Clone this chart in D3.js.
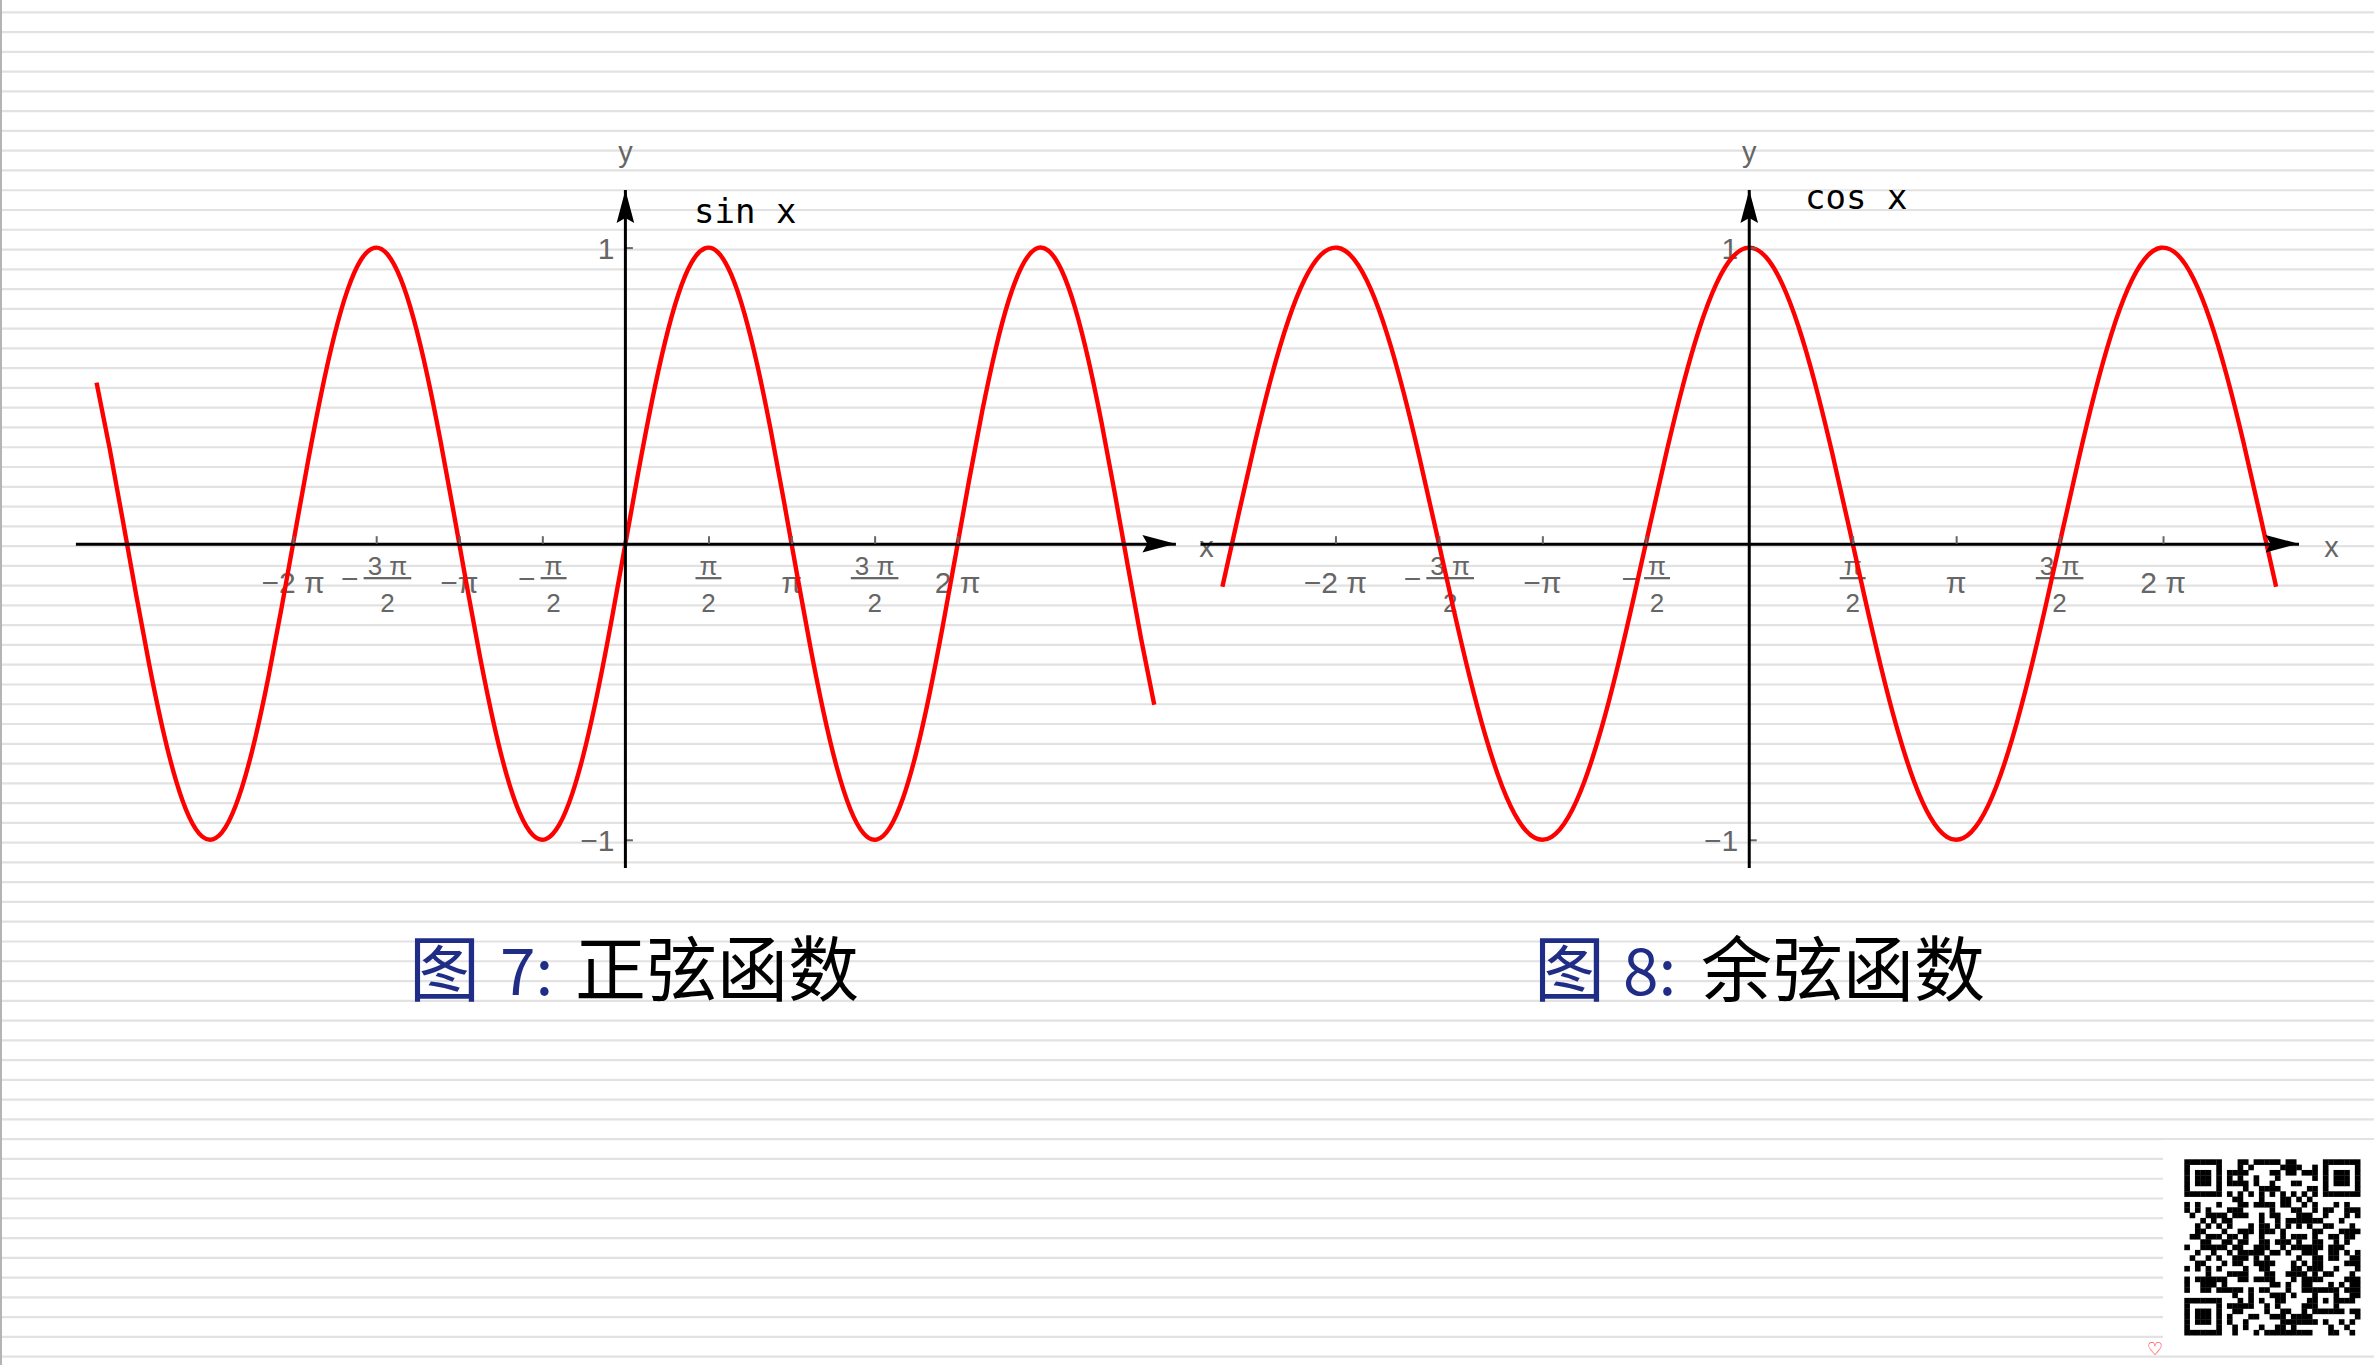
<!DOCTYPE html>
<html><head><meta charset="utf-8">
<script src="https://cdn.jsdelivr.net/npm/d3@7"></script>
<style>html,body{margin:0;padding:0;background:#fff;overflow:hidden}</style>
</head><body>
<svg id="c" width="2374" height="1365"></svg>
<script>
const sinSamples = [
[-10,0.5440],[-9.75,0.3195],[-9.5,0.0752],[-9.25,-0.1739],[-9,-0.4121],[-8.75,-0.6247],[-8.5,-0.7985],[-8.25,-0.9226],
[-8,-0.9894],[-7.75,-0.9946],[-7.5,-0.9380],[-7.25,-0.8231],[-7,-0.6570],[-6.75,-0.4500],[-6.5,-0.2151],[-6.25,0.0332],
[-6,0.2794],[-5.75,0.5083],[-5.5,0.7055],[-5.25,0.8589],[-5,0.9589],[-4.75,0.9993],[-4.5,0.9775],[-4.25,0.8950],
[-4,0.7568],[-3.75,0.5716],[-3.5,0.3508],[-3.25,0.1082],[-3,-0.1411],[-2.75,-0.3817],[-2.5,-0.5985],[-2.25,-0.7781],
[-2,-0.9093],[-1.75,-0.9840],[-1.5,-0.9975],[-1.25,-0.9490],[-1,-0.8415],[-0.75,-0.6816],[-0.5,-0.4794],[-0.25,-0.2474],
[0,0],
[0.25,0.2474],[0.5,0.4794],[0.75,0.6816],[1,0.8415],[1.25,0.9490],[1.5,0.9975],[1.75,0.9840],[2,0.9093],
[2.25,0.7781],[2.5,0.5985],[2.75,0.3817],[3,0.1411],[3.25,-0.1082],[3.5,-0.3508],[3.75,-0.5716],[4,-0.7568],
[4.25,-0.8950],[4.5,-0.9775],[4.75,-0.9993],[5,-0.9589],[5.25,-0.8589],[5.5,-0.7055],[5.75,-0.5083],[6,-0.2794],
[6.25,-0.0332],[6.5,0.2151],[6.75,0.4500],[7,0.6570],[7.25,0.8231],[7.5,0.9380],[7.75,0.9946],[8,0.9894],
[8.25,0.9226],[8.5,0.7985],[8.75,0.6247],[9,0.4121],[9.25,0.1739],[9.5,-0.0752],[9.75,-0.3195],[10,-0.5440]
];
const cosSamples = [
[-8,-0.1455],[-7.75,0.1038],[-7.5,0.3466],[-7.25,0.5679],[-7,0.7539],[-6.75,0.8930],[-6.5,0.9766],[-6.25,0.9994],
[-6,0.9602],[-5.75,0.8612],[-5.5,0.7087],[-5.25,0.5121],[-5,0.2837],[-4.75,0.0376],[-4.5,-0.2108],[-4.25,-0.4461],
[-4,-0.6536],[-3.75,-0.8206],[-3.5,-0.9365],[-3.25,-0.9941],[-3,-0.9900],[-2.75,-0.9243],[-2.5,-0.8011],[-2.25,-0.6282],
[-2,-0.4161],[-1.75,-0.1782],[-1.5,0.0707],[-1.25,0.3153],[-1,0.5403],[-0.75,0.7317],[-0.5,0.8776],[-0.25,0.9689],
[0,1],
[0.25,0.9689],[0.5,0.8776],[0.75,0.7317],[1,0.5403],[1.25,0.3153],[1.5,0.0707],[1.75,-0.1782],[2,-0.4161],
[2.25,-0.6282],[2.5,-0.8011],[2.75,-0.9243],[3,-0.9900],[3.25,-0.9941],[3.5,-0.9365],[3.75,-0.8206],[4,-0.6536],
[4.25,-0.4461],[4.5,-0.2108],[4.75,0.0376],[5,0.2837],[5.25,0.5121],[5.5,0.7087],[5.75,0.8612],[6,0.9602],
[6.25,0.9994],[6.5,0.9766],[6.75,0.8930],[7,0.7539],[7.25,0.5679],[7.5,0.3466],[7.75,0.1038],[8,-0.1455]
];
const piTicks = [-2, -1.5, -1, -0.5, 0.5, 1, 1.5, 2];           // tick positions in multiples of π
const piTickLabels = ["−2 π", "−3 π/2", "−π", "−π/2", "π/2", "π", "3 π/2", "2 π"];
const yTicks = [-1, 1];
const yTickLabels = ["−1", "1"];
const plotNames = ["sin x", "cos x"];
const figPrefix = "图";
const figNumbers = ["7:", "8:"];
const figTitles = ["正弦函数", "余弦函数"];

// ---- drawing ----
const W = 2374, H = 1365;
const svg = d3.select("#c");
const PI = Math.PI;
const GREY = "#666666", BLUE = "#1f2d87";
const LABEL_FONT = "'Liberation Sans', Arial, sans-serif";

// lined paper background
const bg = svg.append("g");
bg.selectAll("line.rule").data(d3.range(69)).join("line")
  .attr("x1", 0).attr("x2", W)
  .attr("y1", k => 12.3 + 19.77 * k).attr("y2", k => 12.3 + 19.77 * k)
  .attr("stroke", "#e2e2e2").attr("stroke-width", 2.2);
bg.append("line").attr("x1", 1).attr("x2", 1).attr("y1", 0).attr("y2", H)
  .attr("stroke", "#b4b4b4").attr("stroke-width", 2);

const yScale = d3.scaleLinear().domain([-1, 1]).range([839.8, 247.6]);

const charts = [
  {data: sinSamples, name: plotNames[0], xDom: [-10.4, 10.4], xRange: [75.4, 1175.4],
   nameX: 694, nameY: 222.7, xLabelX: 1206.4, cap: [409, 500, 575]},
  {data: cosSamples, name: plotNames[1], xDom: [-8.34, 8.34], xRange: [1200, 2298.5],
   nameX: 1805, nameY: 209.3, xLabelX: 2331.5, cap: [1534, 1623, 1701]}
];

function arrowPath(len, half, notch) {
  return `M0,0L${-len},${-half}L${-len + notch},0L${-len},${half}Z`;
}

charts.forEach((ch, i) => {
  const x = d3.scaleLinear().domain(ch.xDom).range(ch.xRange);
  const x0 = x(0), y0 = yScale(0);
  const gLab = svg.append("g");
  const gCurve = svg.append("g");
  const gAxis = svg.append("g");

  // x tick labels
  piTicks.forEach((t, j) => {
    const lab = piTickLabels[j];
    const g = gLab.append("g").attr("transform", `translate(${x(t * PI)},0)`)
      .attr("fill", GREY).style("font-family", LABEL_FONT);
    if (lab.includes("/")) {
      let sign = "", body = lab;
      if (body.startsWith("−")) { sign = "−"; body = body.slice(1); }
      const [num, den] = body.split("/");
      const tn = g.append("text").attr("font-size", 26).attr("text-anchor", "middle").text(num);
      const td = g.append("text").attr("font-size", 26).attr("text-anchor", "middle").text(den);
      const barW = Math.max(tn.node().getComputedTextLength(), td.node().getComputedTextLength()) + 8;
      let mw = 0, gap = 0, tm = null;
      if (sign) {
        tm = g.append("text").attr("font-size", 30).attr("text-anchor", "start").text(sign);
        mw = tm.node().getComputedTextLength(); gap = 5;
      }
      const total = mw + gap + barW;
      const start = -total / 2;
      if (tm) tm.attr("x", start).attr("y", 588.5);
      const bx = start + mw + gap;
      g.append("rect").attr("x", bx).attr("y", 577).attr("width", barW).attr("height", 2.3).attr("fill", GREY);
      tn.attr("x", bx + barW / 2).attr("y", 575);
      td.attr("x", bx + barW / 2).attr("y", 612);
    } else {
      g.append("text").attr("font-size", 30).attr("text-anchor", "middle").attr("y", 592.5).text(lab);
    }
  });
  // y tick labels
  yTicks.forEach((v, j) => {
    gLab.append("text").attr("x", x0 - 11).attr("y", yScale(v) + 11)
      .attr("text-anchor", "end").attr("font-size", 30).attr("fill", GREY)
      .style("font-family", LABEL_FONT).text(yTickLabels[j]);
  });
  // axis names
  gLab.append("text").attr("x", ch.xLabelX).attr("y", 557).attr("text-anchor", "middle")
    .attr("font-size", 29).attr("fill", GREY).style("font-family", LABEL_FONT).text("x");
  gLab.append("text").attr("x", x0).attr("y", 162).attr("text-anchor", "middle")
    .attr("font-size", 29).attr("fill", GREY).style("font-family", LABEL_FONT).text("y");

  // curve
  const line = d3.line().x(d => x(d[0])).y(d => yScale(d[1])).curve(d3.curveNatural);
  gCurve.append("path").datum(ch.data).attr("d", line)
    .attr("fill", "none").attr("stroke", "#ff0000").attr("stroke-width", 4.4)
    .attr("stroke-linejoin", "round");

  // x axis (d3 axis: domain line + upward ticks)
  const xAxis = d3.axisBottom(x).tickValues(piTicks.map(t => t * PI))
    .tickSizeInner(-7.5).tickSizeOuter(0).tickFormat("");
  const ga = gAxis.append("g").attr("transform", `translate(0,${y0})`).call(xAxis);
  ga.selectAll("text").remove();
  ga.select(".domain").attr("stroke", "#000").attr("stroke-width", 3);
  ga.selectAll(".tick line").attr("stroke", GREY).attr("stroke-width", 2);
  gAxis.append("path").attr("d", arrowPath(33, 8.8, 5))
    .attr("transform", `translate(${ch.xRange[1]},${y0})`).attr("fill", "#000");

  // y axis
  const yAxis = d3.axisRight(yScale).tickValues(yTicks).tickSizeInner(7.5).tickSizeOuter(0).tickFormat("");
  const gy = gAxis.append("g").attr("transform", `translate(${x0},0)`).call(yAxis);
  gy.selectAll("text").remove();
  gy.select(".domain").remove();
  gy.selectAll(".tick line").attr("stroke", GREY).attr("stroke-width", 2);
  gAxis.append("line").attr("x1", x0).attr("x2", x0)
    .attr("y1", yScale(-1.095)).attr("y2", yScale(1.1945))
    .attr("stroke", "#000").attr("stroke-width", 3);
  gAxis.append("path").attr("d", arrowPath(33, 8.8, 5))
    .attr("transform", `translate(${x0},${yScale(1.1945)}) rotate(-90)`).attr("fill", "#000");

  // function name
  svg.append("text").attr("x", ch.nameX).attr("y", ch.nameY)
    .attr("font-size", 34).attr("fill", "#000")
    .style("font-family", "'DejaVu Sans Mono', monospace")
    .style("white-space", "pre").attr("xml:space", "preserve").text(ch.name);

  // caption
  const cg = svg.append("g").style("font-family", "'Noto Sans CJK SC', sans-serif");
  cg.append("text").attr("x", ch.cap[0]).attr("y", 995).attr("font-size", 71).attr("fill", BLUE).text(figPrefix);
  cg.append("text").attr("x", ch.cap[1]).attr("y", 995).attr("font-size", 64).attr("fill", BLUE).text(figNumbers[i]);
  cg.append("text").attr("x", ch.cap[2]).attr("y", 995).attr("font-size", 71).attr("fill", "#000").text(figTitles[i]);
});

// QR code panel (decorative, deterministic pattern)
const qr = svg.append("g");
qr.append("rect").attr("x", 2163).attr("y", 1140).attr("width", W - 2163).attr("height", 211).attr("fill", "#fff");
const N = 33, ms = 5.33, qx = 2184.3, qy = 1159.3;
function finder(r, c, r0, c0) {
  const a = r - r0, b = c - c0;
  if (a < -1 || a > 7 || b < -1 || b > 7) return null;
  if (a < 0 || a > 6 || b < 0 || b > 6) return 0;
  if (a === 0 || a === 6 || b === 0 || b === 6) return 1;
  if (a >= 2 && a <= 4 && b >= 2 && b <= 4) return 1;
  return 0;
}
function hashBit(r, c) {
  let n = (r * 374761393 + c * 668265263) >>> 0;
  n = Math.imul(n ^ (n >>> 13), 1274126177) >>> 0;
  return ((n ^ (n >>> 16)) >>> 3) & 1;
}
const cells = [];
for (let r = 0; r < N; r++) for (let c = 0; c < N; c++) {
  let v = finder(r, c, 0, 0);
  if (v === null) v = finder(r, c, 0, N - 7);
  if (v === null) v = finder(r, c, N - 7, 0);
  if (v === null) {
    const ar = r - 26, ac = c - 26;
    if (Math.abs(ar) <= 2 && Math.abs(ac) <= 2) v = (Math.max(Math.abs(ar), Math.abs(ac)) !== 1) ? 1 : 0;
    else if (r === 6) v = (c % 2 === 0) ? 1 : 0;
    else if (c === 6) v = (r % 2 === 0) ? 1 : 0;
    else v = hashBit(r, c);
  }
  if (v) cells.push([r, c]);
}
qr.selectAll("rect.m").data(cells).join("rect").attr("class", "m")
  .attr("x", d => qx + d[1] * ms).attr("y", d => qy + d[0] * ms)
  .attr("width", ms + 0.3).attr("height", ms + 0.3).attr("fill", "#000");
svg.append("text").attr("x", 2155).attr("y", 1355).attr("text-anchor", "middle")
  .attr("font-size", 18).attr("fill", "#ff0000").style("font-family", "'DejaVu Sans'").text("♡");
</script>
</body></html>
